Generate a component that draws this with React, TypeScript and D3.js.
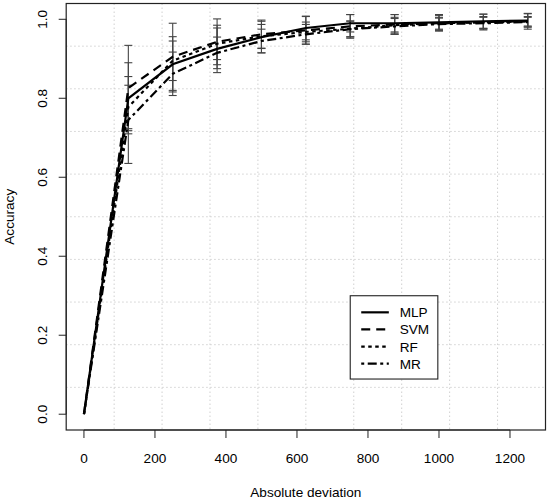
import * as d3 from 'd3';

// absolute deviation values where the models were evaluated
const deviations = [0, 125, 250, 375, 500, 625, 750, 875, 1000, 1125, 1250];

// mean accuracy per model
const mlpAcc = [0, 0.8, 0.886, 0.925, 0.955, 0.978, 0.99, 0.99, 0.992, 0.995, 0.997];
const svmAcc = [0, 0.826, 0.905, 0.943, 0.962, 0.972, 0.982, 0.987, 0.99, 0.993, 0.995];
const rfAcc = [0, 0.778, 0.895, 0.938, 0.957, 0.968, 0.976, 0.985, 0.99, 0.992, 0.995];
const mrAcc = [0, 0.745, 0.862, 0.915, 0.945, 0.962, 0.975, 0.982, 0.988, 0.99, 0.993];

// standard deviation (error bar half-length) per model
const mlpSd = [0, 0.09, 0.07, 0.06, 0.04, 0.03, 0.022, 0.022, 0.02, 0.018, 0.017];
const svmSd = [0, 0.108, 0.085, 0.058, 0.036, 0.035, 0.03, 0.025, 0.02, 0.02, 0.02];
const rfSd = [0, 0.055, 0.05, 0.04, 0.03, 0.025, 0.02, 0.02, 0.015, 0.015, 0.012];
const mrSd = [0, 0.11, 0.055, 0.04, 0.03, 0.025, 0.02, 0.02, 0.015, 0.015, 0.012];

const modelNames = ['MLP', 'SVM', 'RF', 'MR'];
const xTicks = [0, 200, 400, 600, 800, 1000, 1200];
const yTicks = [0, 0.2, 0.4, 0.6, 0.8, 1.0];

const dashes = ['none', '9,6', '3.5,3.5', '3,3.5,9,3.5'];

export default function App() {
  const width = 550;
  const height = 502;
  // R style plot region
  const left = 66.2;
  const right = 545.5;
  const top = 3.5;
  const bottom = 430;
  const font = '"Liberation Sans", Arial, sans-serif';
  const fs = 13.6;

  const x = d3.scaleLinear().domain([-50, 1300]).range([left, right]);
  const y = d3.scaleLinear().domain([-0.04, 1.04]).range([bottom, top]);

  const means = [mlpAcc, svmAcc, rfAcc, mrAcc];
  const sds = [mlpSd, svmSd, rfSd, mrSd];

  const line = d3
    .line<number>()
    .x((_, i) => x(deviations[i]))
    .y((d) => y(d));

  // grid(10, 10): equal divisions of the plot region
  const gridX = d3.range(1, 10).map((i) => left + ((right - left) * i) / 10);
  const gridY = d3.range(1, 10).map((i) => top + ((bottom - top) * i) / 10);

  const legX = x(750);
  const legY = y(0.3);

  return (
    <svg
      width={width}
      height={height}
      style={{ position: 'absolute', left: 0, top: 0, background: '#fff' }}
      fontFamily={font}
      fontSize={fs}
    >
      <rect width={width} height={height} fill='#fff' />
      <g stroke='#d0d0d0' strokeWidth={1} strokeDasharray='1.5,2.5'>
        {gridX.map((gx, i) => (
          <line key={'gx' + i} x1={gx} x2={gx} y1={top} y2={bottom} />
        ))}
        {gridY.map((gy, i) => (
          <line key={'gy' + i} x1={left} x2={right} y1={gy} y2={gy} />
        ))}
      </g>

      {/* error bars */}
      <g stroke='#444' strokeWidth={1.1}>
        {sds.map((sd, s) =>
          deviations.map((dv, i) => {
            if (i === 0) return null;
            const cx = x(dv);
            const hi = y(means[s][i] + sd[i]);
            const lo = y(means[s][i] - sd[i]);
            return (
              <g key={s + '-' + i}>
                <line x1={cx} x2={cx} y1={hi} y2={lo} />
                <line x1={cx - 4} x2={cx + 4} y1={hi} y2={hi} />
                <line x1={cx - 4} x2={cx + 4} y1={lo} y2={lo} />
              </g>
            );
          }),
        )}
      </g>

      {/* model lines */}
      <g fill='none' stroke='#000' strokeWidth={2.2}>
        {means.map((m, s) => (
          <path
            key={modelNames[s]}
            d={line(m) ?? ''}
            strokeDasharray={dashes[s]}
          />
        ))}
      </g>

      <rect
        x={left}
        y={top}
        width={right - left}
        height={bottom - top}
        fill='none'
        stroke='#222'
        strokeWidth={1.2}
      />

      {/* x axis */}
      <g stroke='#222' strokeWidth={1}>
        <line x1={x(0)} x2={x(1200)} y1={bottom} y2={bottom} />
        {xTicks.map((t) => (
          <line key={t} x1={x(t)} x2={x(t)} y1={bottom} y2={bottom + 8} />
        ))}
      </g>
      {xTicks.map((t) => (
        <text key={'xl' + t} x={x(t)} y={462.5} textAnchor='middle'>
          {t}
        </text>
      ))}
      <text x={(left + right) / 2} y={497} textAnchor='middle'>
        Absolute deviation
      </text>

      {/* y axis */}
      <g stroke='#222' strokeWidth={1}>
        <line x1={left} x2={left} y1={y(0)} y2={y(1)} />
        {yTicks.map((t) => (
          <line key={t} x1={left - 7.5} x2={left} y1={y(t)} y2={y(t)} />
        ))}
      </g>
      {yTicks.map((t) => (
        <text
          key={'yl' + t}
          transform={`translate(46.7,${y(t)}) rotate(-90)`}
          textAnchor='middle'
        >
          {t.toFixed(1)}
        </text>
      ))}
      <text
        transform={`translate(13.7,${(top + bottom) / 2}) rotate(-90)`}
        textAnchor='middle'
      >
        Accuracy
      </text>

      {/* legend */}
      <rect
        x={legX}
        y={legY}
        width={87.6}
        height={83.3}
        fill='#fff'
        stroke='#222'
        strokeWidth={1.1}
      />
      {modelNames.map((name, s) => {
        const ry = legY + 16.6 + s * 17.1;
        return (
          <g key={name}>
            <line
              x1={legX + 11}
              x2={legX + 38.6}
              y1={ry}
              y2={ry}
              stroke='#000'
              strokeWidth={2.2}
              strokeDasharray={dashes[s]}
            />
            <text x={legX + 49.5} y={ry + 5}>
              {name}
            </text>
          </g>
        );
      })}
    </svg>
  );
}
